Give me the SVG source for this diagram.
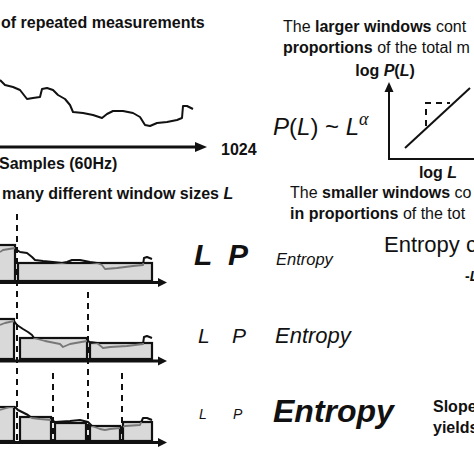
<svg xmlns="http://www.w3.org/2000/svg" width="474" height="474" viewBox="0 0 474 474">
<style>
text{font-family:"Liberation Sans",Arial,sans-serif;fill:#111}
.b{font-weight:bold}
.i{font-style:italic}
.lbl{font-size:16px;font-weight:bold}
.txt{font-size:16px}
.sig{fill:none;stroke:#111;stroke-width:2;stroke-linejoin:round}
.sigg{fill:none;stroke:#777;stroke-width:1.8;stroke-linejoin:round}
.box{fill:#d9d9d9;stroke:#111;stroke-width:2.2}
.ax{stroke:#111;stroke-width:3;fill:none}
.dash{stroke:#111;stroke-width:2;stroke-dasharray:6 5;fill:none}
.thin{stroke:#111;stroke-width:2;fill:none}
</style>
<defs>
<clipPath id="c1"><rect x="-2" y="245" width="17" height="36"/><rect x="18" y="263" width="134" height="18"/></clipPath>
<clipPath id="c2"><rect x="-2" y="319" width="16" height="40"/><rect x="20" y="338" width="67" height="21"/><rect x="90" y="343" width="62" height="16"/></clipPath>
<clipPath id="c3"><rect x="-2" y="407" width="16" height="34"/><rect x="20" y="417" width="31" height="24"/><rect x="55" y="423" width="31" height="18"/><rect x="90" y="426" width="30" height="15"/><rect x="123" y="422" width="29" height="19"/></clipPath>
</defs>

<g id="top-series">
<text class="lbl" x="1" y="28" font-size="16.4">of repeated measurements</text>
<path class="sig" d="M0,80 L5,85 L13,87 L20,90 L27,99 L33,98 L40,97 L42,89 L47,88 L53,90 L58,95 L65,99 L70,105 L73,112 L83,113 L93,115 L102,118 L107,114 L113,111 L123,111 L133,113 L140,117 L145,125 L150,126 L157,123 L167,122 L177,120 L182,118 L183,106 L187,106 L193,109"/>
<line class="ax" x1="0" y1="147" x2="198" y2="147"/>
<polygon points="195,142 207,147 195,152" fill="#111"/>
<text class="lbl" x="221" y="155">1024</text>
<text class="lbl" x="-1" y="169">Samples (60Hz)</text>
<text class="lbl" x="2" y="199">many different window sizes <tspan class="i">L</tspan></text>
</g>

<g id="power-law">
<text class="txt" x="283" y="32">The <tspan class="b">larger windows</tspan> cont</text>
<text class="txt" x="283" y="53"><tspan class="b">proportions</tspan> of the total m</text>
<text class="lbl" x="385" y="76" text-anchor="middle">log <tspan class="i">P</tspan>(<tspan class="i">L</tspan>)</text>
<text x="273" y="135" font-size="24"><tspan class="i">P</tspan>(<tspan class="i">L</tspan>) ~ <tspan class="i">L</tspan><tspan font-family="Liberation Serif, serif" font-style="italic" font-size="18" dy="-10">α</tspan></text>
<line class="thin" x1="389" y1="90" x2="389" y2="160" stroke-width="2.5"/>
<polygon points="384.5,92 389,82 393.5,92" fill="#111"/>
<line class="thin" x1="388" y1="159" x2="474" y2="159" stroke-width="2.5"/>
<line class="thin" x1="405" y1="148" x2="470" y2="88"/>
<path class="dash" d="M426,126 V103 H450" stroke-dasharray="5 4" stroke-width="1.8"/>
<text class="lbl" x="438" y="178" text-anchor="middle">log <tspan class="i">L</tspan></text>
<text class="txt" x="290" y="198">The <tspan class="b">smaller windows</tspan> co</text>
<text class="txt" x="290" y="219"><tspan class="b">in proportions</tspan> of the tot</text>
<text x="384" y="252" font-size="22">Entropy c</text>
<text class="b" x="465" y="281" font-size="14">-<tspan class="i">L</tspan></text>
</g>

<g id="dashes">
<line class="dash" x1="17" y1="214" x2="17" y2="442"/>
<line class="dash" x1="88" y1="292" x2="88" y2="442"/>
<line class="dash" x1="53" y1="373" x2="53" y2="442"/>
<line class="dash" x1="122" y1="373" x2="122" y2="442"/>
</g>

<g id="row1">
<path class="sig" d="M0,252 L3,250 L15,248 L17,250 L20,252 L27,253 L32,257 L35,260 L43,261 L53,262 L62,263 L67,262 L72,260 L80,260 L90,262 L97,263 L102,265 L105,269 L117,268 L133,266 L143,265 L144,258 L147,257 L152,259"/>
<rect class="box" x="-2" y="245" width="17" height="36"/>
<rect class="box" x="18" y="263" width="134" height="18"/>
<path class="sigg" clip-path="url(#c1)" d="M0,252 L3,250 L15,248 L17,250 L20,252 L27,253 L32,257 L35,260 L43,261 L53,262 L62,263 L67,262 L72,260 L80,260 L90,262 L97,263 L102,265 L105,269 L117,268 L133,266 L143,265 L144,258 L147,257 L152,259"/>
<line class="ax" x1="0" y1="282.5" x2="160" y2="282.5"/>
<polygon points="158,278 167,282.5 158,287" fill="#111"/>
<text class="b i" x="194" y="265" font-size="30">L</text>
<text class="b i" x="228" y="265" font-size="30">P</text>
<text class="i" x="276" y="265" font-size="16.5">Entropy</text>
</g>

<g id="row2">
<path class="sig" d="M0,325 L5,323 L14,321 L17,325 L23,329 L28,332 L32,335 L34,338 L45,341 L60,344 L63,347 L70,344 L87,341 L90,342 L97,343 L103,348 L110,347 L127,346 L143,344 L144,337 L147,336 L152,338"/>
<rect class="box" x="-2" y="319" width="16" height="40"/>
<rect class="box" x="20" y="338" width="67" height="21"/>
<rect class="box" x="90" y="343" width="62" height="16"/>
<path class="sigg" clip-path="url(#c2)" d="M0,325 L5,323 L14,321 L17,325 L23,329 L28,332 L32,335 L34,338 L45,341 L60,344 L63,347 L70,344 L87,341 L90,342 L97,343 L103,348 L110,347 L127,346 L143,344 L144,337 L147,336 L152,338"/>
<line class="ax" x1="0" y1="361" x2="160" y2="361"/>
<polygon points="158,356.5 167,361 158,365.5" fill="#111"/>
<text class="i" x="198" y="343" font-size="21">L</text>
<text class="i" x="232" y="343" font-size="21">P</text>
<text class="i" x="275" y="343" font-size="22">Entropy</text>
</g>

<g id="row3">
<path class="sig" d="M0,410 L10,407 L15,407 L18,410 L22,412 L28,415 L32,418 L40,419 L51,420 L55,422 L70,421 L80,420 L88,422 L92,426 L100,429 L105,430 L110,429 L120,428 L125,426 L140,425 L143,418 L147,418 L152,420"/>
<rect class="box" x="-2" y="407" width="16" height="34"/>
<rect class="box" x="20" y="417" width="31" height="24"/>
<rect class="box" x="55" y="423" width="31" height="18"/>
<rect class="box" x="90" y="426" width="30" height="15"/>
<rect class="box" x="123" y="422" width="29" height="19"/>
<path class="sigg" clip-path="url(#c3)" d="M0,410 L10,407 L15,407 L18,410 L22,412 L28,415 L32,418 L40,419 L51,420 L55,422 L70,421 L80,420 L88,422 L92,426 L100,429 L105,430 L110,429 L120,428 L125,426 L140,425 L143,418 L147,418 L152,420"/>
<line class="ax" x1="0" y1="442.5" x2="160" y2="442.5"/>
<polygon points="158,438 167,442.5 158,447" fill="#111"/>
<text class="i" x="199" y="419" font-size="14">L</text>
<text class="i" x="233" y="419" font-size="14">P</text>
<text class="b i" x="273" y="422" font-size="32">Entropy</text>
<text class="lbl" x="433" y="412">Slope</text>
<text class="lbl" x="433" y="433">yields</text>
</g>
</svg>
